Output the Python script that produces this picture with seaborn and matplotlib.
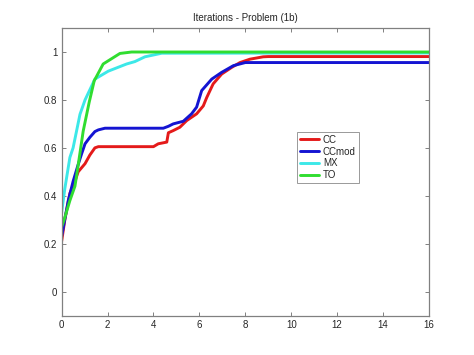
import matplotlib
matplotlib.use("Agg")
import matplotlib.pyplot as plt
import seaborn as sns
import pandas as pd

title = "Iterations - Problem (1b)"
methods = ["CC", "CCmod", "MX", "TO"]

cc_x = [0, 0.14, 0.36, 0.58, 0.72, 1.02, 1.23, 1.45, 1.6, 4.0, 4.21, 4.58, 4.65, 4.86, 5.15, 5.45, 5.88, 6.17, 6.32, 6.6, 6.97, 7.41, 7.77, 8.2, 8.78, 9.0, 16]
cc_y = [0.21, 0.30, 0.41, 0.46, 0.50, 0.534, 0.57, 0.60, 0.605, 0.605, 0.617, 0.624, 0.663, 0.672, 0.686, 0.714, 0.742, 0.775, 0.81, 0.867, 0.908, 0.936, 0.956, 0.97, 0.98, 0.981, 0.981]

ccmod_x = [0, 0.29, 0.5, 0.72, 0.87, 1.02, 1.23, 1.45, 1.6, 1.89, 4.43, 4.65, 4.86, 5.3, 5.66, 5.88, 6.1, 6.54, 6.97, 7.48, 7.84, 8.0, 16]
ccmod_y = [0.23, 0.38, 0.46, 0.53, 0.575, 0.617, 0.644, 0.668, 0.675, 0.682, 0.682, 0.69, 0.70, 0.711, 0.742, 0.77, 0.839, 0.887, 0.915, 0.943, 0.952, 0.956, 0.956]

mx_x = [0, 0.14, 0.36, 0.5, 0.65, 0.8, 1.02, 1.45, 2.03, 2.83, 3.19, 3.63, 4.36, 16]
mx_y = [0.33, 0.43, 0.56, 0.60, 0.67, 0.74, 0.80, 0.887, 0.92, 0.95, 0.96, 0.98, 0.995, 0.996]

to_x = [0, 0.11, 0.36, 0.58, 0.72, 0.94, 1.2, 1.42, 1.81, 2.54, 3.05, 16]
to_y = [0.27, 0.30, 0.38, 0.44, 0.527, 0.67, 0.79, 0.88, 0.95, 0.994, 1.0, 1.0]

xticks = [0, 2, 4, 6, 8, 10, 12, 14, 16]
yticks = [0, 0.2, 0.4, 0.6, 0.8, 1]
ytick_labels = ["0", "0.2", "0.4", "0.6", "0.8", "1"]

series = [(cc_x, cc_y), (ccmod_x, ccmod_y), (mx_x, mx_y), (to_x, to_y)]
frames = []
for name, (xs, ys) in zip(methods, series):
    frames.append(pd.DataFrame({"x": xs, "y": ys, "method": name}))
df = pd.concat(frames, ignore_index=True)

sns.set_style("white")
plt.rcParams["font.family"] = ["Liberation Sans", "DejaVu Sans"]

fig = plt.figure(figsize=(4.74, 3.55), dpi=100)
ax = fig.add_axes([0.130, 0.111, 0.775, 0.810])

palette = {"CC": "#e41a1a", "CCmod": "#1414d2", "MX": "#3ce8e8", "TO": "#30dd30"}
sns.lineplot(data=df, x="x", y="y", hue="method", palette=palette, sort=False,
             estimator=None, linewidth=2.1, ax=ax)

ax.set_xlim(0, 16)
ax.set_ylim(-0.1, 1.1)
ax.set_xticks(xticks)
ax.set_yticks(yticks)
ax.set_yticklabels(ytick_labels)
ax.set_xlabel("")
ax.set_ylabel("")
ax.set_title(title, fontsize=7, pad=5)

for s in ax.spines.values():
    s.set_color("#808080")
    s.set_linewidth(0.9)
ax.tick_params(direction="in", length=3, width=0.7, color="#808080",
               labelsize=7, top=True, right=True, bottom=True, left=True,
               pad=3)

leg = ax.legend(loc="lower left", bbox_to_anchor=(0.64, 0.46), fontsize=7,
                frameon=True, fancybox=False, borderpad=0.3, labelspacing=0.2,
                handlelength=2.0, handletextpad=0.4, borderaxespad=0)
leg.get_frame().set_edgecolor("#808080")
leg.get_frame().set_linewidth(0.7)
for line in leg.get_lines():
    line.set_linewidth(2.1)

fig.savefig("out.png", dpi=100, facecolor="white")
